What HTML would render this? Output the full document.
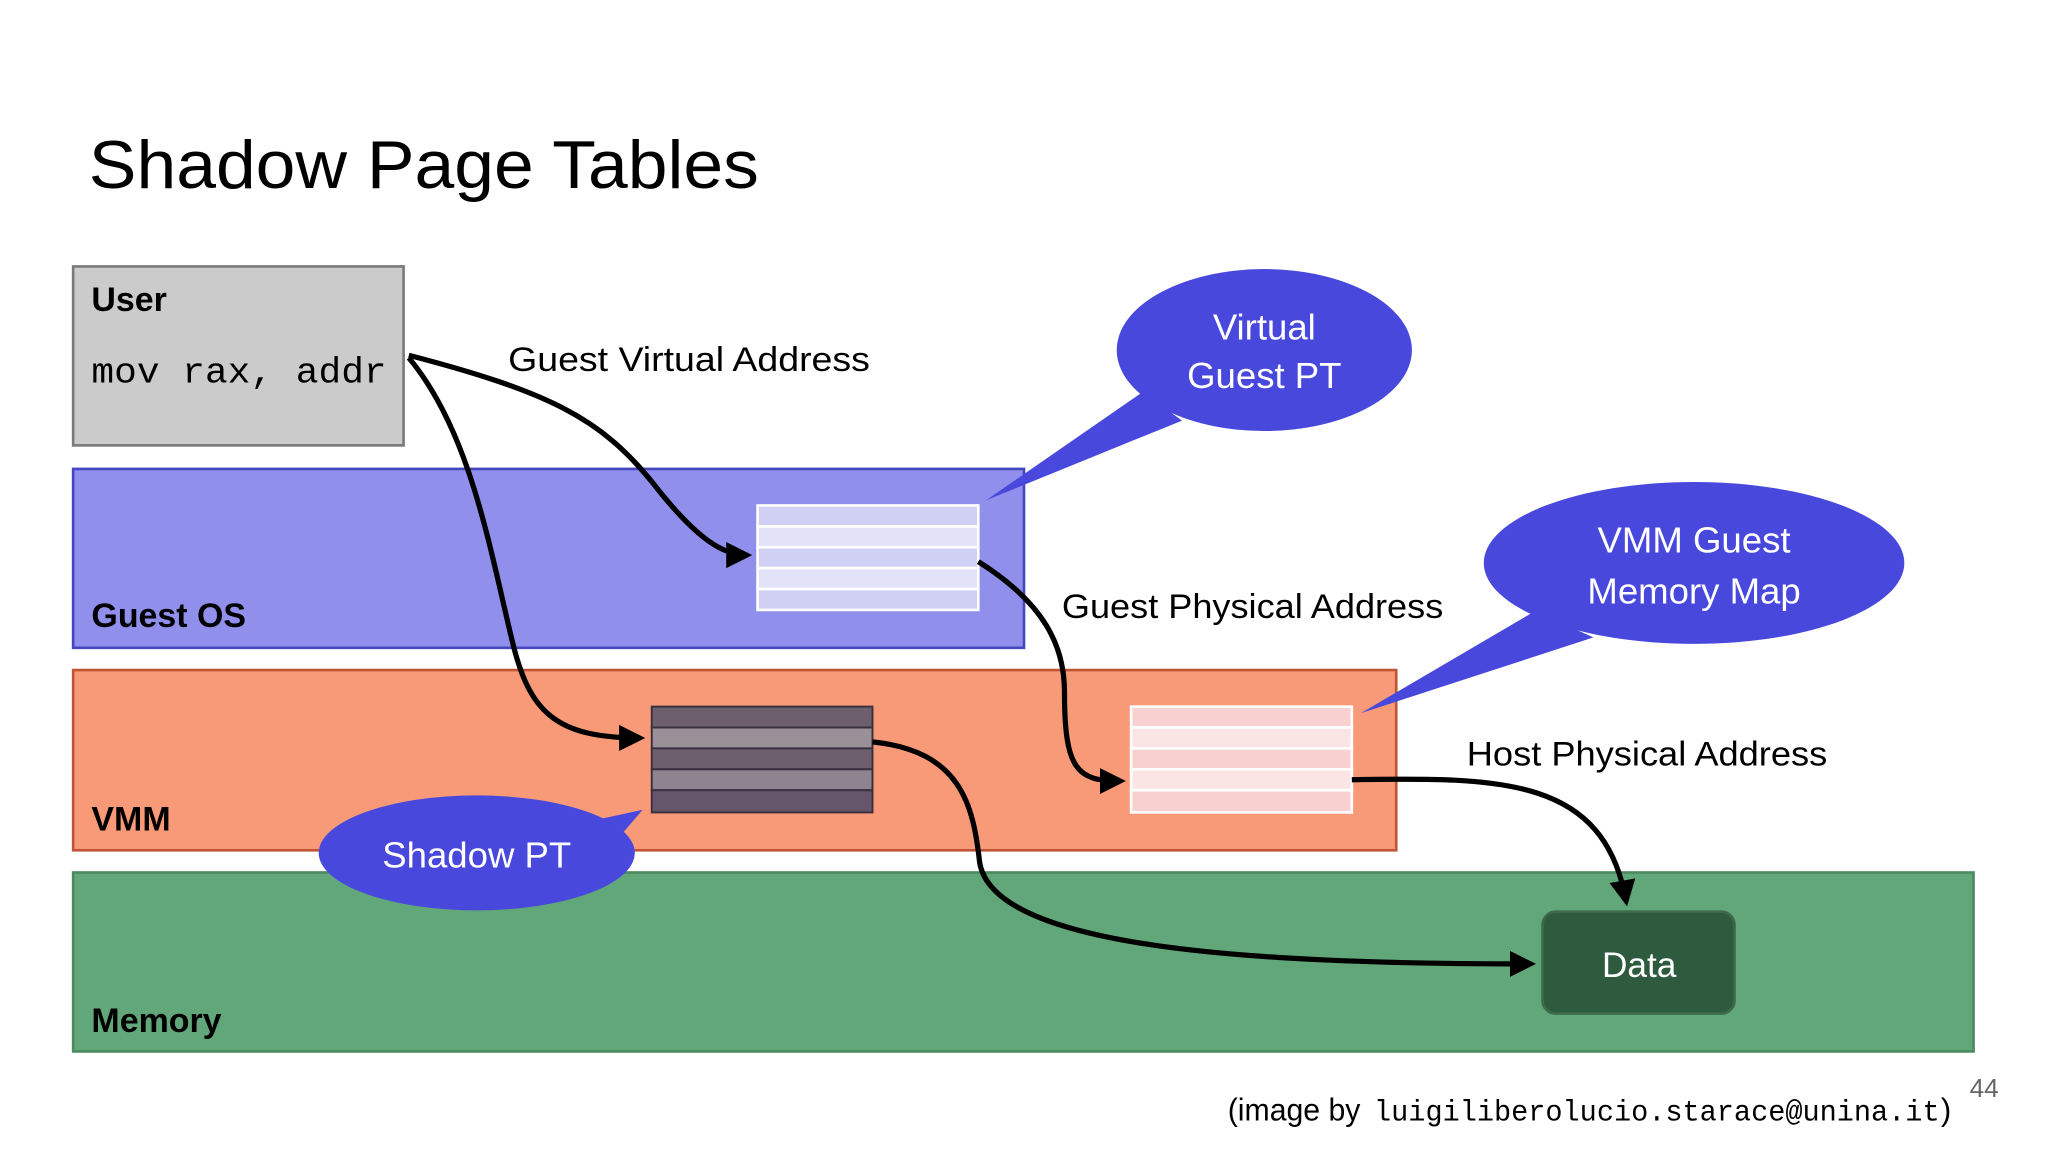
<!DOCTYPE html>
<html><head><meta charset="utf-8"><style>html,body{margin:0;padding:0;background:#fff;overflow:hidden}svg{display:block}</style></head>
<body>
<svg width="2048" height="1152" viewBox="0 0 1568 882" preserveAspectRatio="none" xmlns="http://www.w3.org/2000/svg" font-family="Liberation Sans, DejaVu Sans, sans-serif">
<defs>
<marker id="ah" markerWidth="5" markerHeight="5" refX="4" refY="2.5" orient="auto" markerUnits="strokeWidth"><path d="M0,0 L5,2.5 L0,5 Z" fill="#000"/></marker>
</defs>
<rect width="1568" height="882" fill="#fff"/>
<text x="68" y="144" font-size="52" fill="#000" textLength="513" lengthAdjust="spacingAndGlyphs">Shadow Page Tables</text>

<rect x="56" y="204" width="253" height="137" fill="#cbcbcb" stroke="#7a7a7a" stroke-width="2"/>
<text x="70" y="238" font-size="26" font-weight="bold">User</text>
<text x="70" y="293" font-size="28" font-family="Liberation Mono, monospace" textLength="226" lengthAdjust="spacingAndGlyphs">mov rax, addr</text>

<rect x="56" y="359" width="728" height="137" fill="#9090ec" stroke="#4646c0" stroke-width="2"/>
<text x="70" y="480" font-size="26" font-weight="bold">Guest OS</text>

<rect x="56" y="513" width="1013" height="138" fill="#f89a78" stroke="#c05535" stroke-width="2"/>
<text x="70" y="636" font-size="26" font-weight="bold">VMM</text>

<rect x="56" y="668" width="1455" height="137" fill="#62a77a" stroke="#4a8a5e" stroke-width="2"/>
<text x="70" y="790" font-size="26" font-weight="bold">Memory</text>

<g stroke="#fff" stroke-width="2">
<rect x="580" y="387" width="169" height="16" fill="#d0d0f4"/>
<rect x="580" y="403" width="169" height="16" fill="#e2e2f8"/>
<rect x="580" y="419" width="169" height="16" fill="#d0d0f4"/>
<rect x="580" y="435" width="169" height="16" fill="#e2e2f8"/>
<rect x="580" y="451" width="169" height="16" fill="#d0d0f4"/>
</g>
<g stroke="#3a3040" stroke-width="1.5">
<rect x="499" y="541" width="169" height="16" fill="#6e5f6e"/>
<rect x="499" y="557" width="169" height="16" fill="#9a9098"/>
<rect x="499" y="573" width="169" height="16" fill="#6e5f6e"/>
<rect x="499" y="589" width="169" height="16" fill="#8e8490"/>
<rect x="499" y="605" width="169" height="17" fill="#65566a"/>
</g>
<g stroke="#fff" stroke-width="2">
<rect x="866" y="541" width="169" height="16" fill="#f8d0d0"/>
<rect x="866" y="557" width="169" height="16" fill="#fbe4e4"/>
<rect x="866" y="573" width="169" height="16" fill="#f8d0d0"/>
<rect x="866" y="589" width="169" height="16" fill="#fbe4e4"/>
<rect x="866" y="605" width="169" height="17" fill="#f8d0d0"/>
</g>

<rect x="1181" y="698" width="147" height="78" rx="10" fill="#2e5a3e" stroke="#3e6a4c" stroke-width="2"/>
<text x="1255" y="748" font-size="27" fill="#fff" text-anchor="middle">Data</text>

<g fill="#4848dd">
<path d="M875,300 L755,383 L905,322 Z"/>
<ellipse cx="968" cy="268" rx="113" ry="62"/>
<path d="M1175,468 L1042,546 L1220,488 Z"/>
<ellipse cx="1297" cy="431" rx="161" ry="62"/>
<path d="M455,628 L492,620 L468,648 Z"/>
<ellipse cx="365" cy="653" rx="121" ry="44"/>
</g>
<g fill="#fff" font-size="28" text-anchor="middle">
<text x="968" y="260">Virtual</text>
<text x="968" y="297">Guest PT</text>
<text x="1297" y="423">VMM Guest</text>
<text x="1297" y="462">Memory Map</text>
<text x="365" y="664">Shadow PT</text>
</g>

<g font-size="26" fill="#000">
<text x="389" y="284" textLength="277" lengthAdjust="spacingAndGlyphs">Guest Virtual Address</text>
<text x="813" y="473" textLength="292" lengthAdjust="spacingAndGlyphs">Guest Physical Address</text>
<text x="1123" y="586" textLength="276" lengthAdjust="spacingAndGlyphs">Host Physical Address</text>
</g>

<g fill="none" stroke="#000" stroke-width="4" marker-end="url(#ah)">
<path d="M313,272 C420,300 460,320 500,370 C535,415 555,425 572,425"/>
<path d="M313,274 C360,330 375,420 392,490 C405,545 425,565 490,565"/>
<path d="M749,430 C800,462 815,495 815,530 C815,590 825,598 858,598"/>
<path d="M668,568 C735,575 745,615 750,660 C760,725 950,738 1172,738"/>
<path d="M1035,597 C1150,595 1228,595 1245,690"/>
</g>

<text x="940" y="858" font-size="24" fill="#000"><tspan textLength="108" lengthAdjust="spacingAndGlyphs">(image by </tspan><tspan x="1052" font-family="Liberation Mono, monospace" font-size="23" textLength="433" lengthAdjust="spacingAndGlyphs">luigiliberolucio.starace@unina.it</tspan><tspan x="1486">)</tspan></text>
<text x="1508" y="840" font-size="20" fill="#666">44</text>
</svg>
</body></html>
